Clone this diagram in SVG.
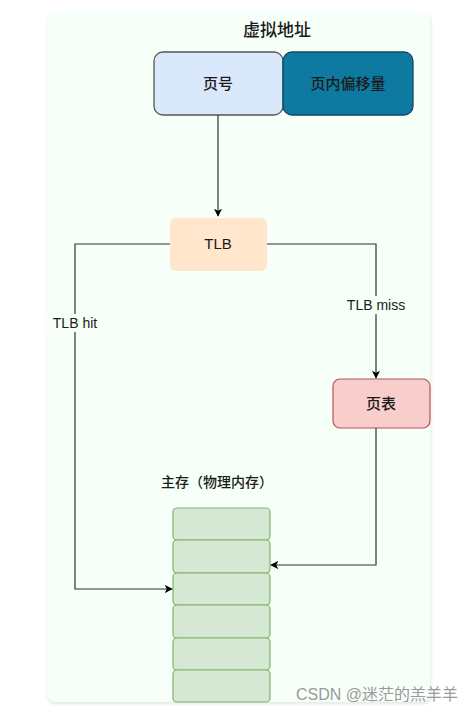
<svg xmlns="http://www.w3.org/2000/svg" width="474" height="712" viewBox="0 0 474 712">
<defs>
<marker id="arr" viewBox="0 0 10 10" refX="9" refY="5" markerWidth="8" markerHeight="8" markerUnits="userSpaceOnUse" orient="auto">
<path d="M0,0 L10,5 L0,10 L2.5,5 Z" fill="#000"/>
</marker>
<filter id="sh" x="-5%" y="-5%" width="110%" height="110%">
<feGaussianBlur stdDeviation="1.5"/>
</filter>
<style>
text{font-family:"Liberation Sans","Noto Sans CJK SC",sans-serif;fill:#1a1a1a;text-anchor:middle}
.nt{font-size:15px;font-weight:500}
.ln{fill:none;stroke:#333;stroke-width:1.2}
.mem{fill:#d5e8d4;stroke:#82b366;stroke-width:1.2}
.lbl{font-size:14px}
</style>
</defs>
<rect width="474" height="712" fill="#fff"/>
<rect x="47" y="14" width="384" height="690" rx="8" fill="#e6e6e6" filter="url(#sh)"/>
<rect x="47" y="12" width="383" height="690" rx="8" fill="#f6fff8"/>
<g id="title"><text x="277" y="36" font-size="17" font-weight="500">虚拟地址</text></g>
<g id="page-number">
<rect x="154" y="52" width="129" height="63" rx="9" fill="#dae8fc" stroke="#555" stroke-width="1.3"/>
<text class="nt" x="218" y="89">页号</text>
</g>
<g id="page-offset">
<rect x="283" y="52" width="130" height="63" rx="9" fill="#0f7aa1" stroke="#0d4a66" stroke-width="1.3"/>
<text class="nt" x="348" y="89">页内偏移量</text>
</g>
<g id="tlb">
<rect x="170" y="218" width="97" height="53" rx="6" fill="#ffe6cc"/>
<text class="nt" x="218" y="249">TLB</text>
</g>
<g id="page-table">
<rect x="333" y="379" width="97" height="49" rx="7" fill="#f8cecc" stroke="#b85450" stroke-width="1.2"/>
<text class="nt" x="381" y="409">页表</text>
</g>
<g id="memory">
<text x="217" y="487" font-size="14" font-weight="500">主存（物理内存）</text>
<rect class="mem" x="173" y="508" width="97" height="32" rx="4"/>
<rect class="mem" x="173" y="540" width="97" height="33" rx="4"/>
<rect class="mem" x="173" y="573" width="97" height="32" rx="4"/>
<rect class="mem" x="173" y="605" width="97" height="33" rx="4"/>
<rect class="mem" x="173" y="638" width="97" height="32" rx="4"/>
<rect class="mem" x="173" y="670" width="97" height="32" rx="4"/>
</g>
<g id="connectors">
<path class="ln" d="M218,115 V216" marker-end="url(#arr)"/>
<path class="ln" d="M170,244 H75 V589 H172" marker-end="url(#arr)"/>
<path class="ln" d="M267,244 H376 V378" marker-end="url(#arr)"/>
<path class="ln" d="M376,428 V565 H271" marker-end="url(#arr)"/>
<rect x="44" y="314" width="62" height="18" fill="#f6fff8"/>
<text class="lbl" x="75" y="328">TLB hit</text>
<rect x="342" y="296" width="68" height="18" fill="#f6fff8"/>
<text class="lbl" x="376" y="310">TLB miss</text>
</g>
<text x="377" y="700" font-size="16" style="fill:#9a9a9a">CSDN @迷茫的羔羊羊</text>
</svg>
